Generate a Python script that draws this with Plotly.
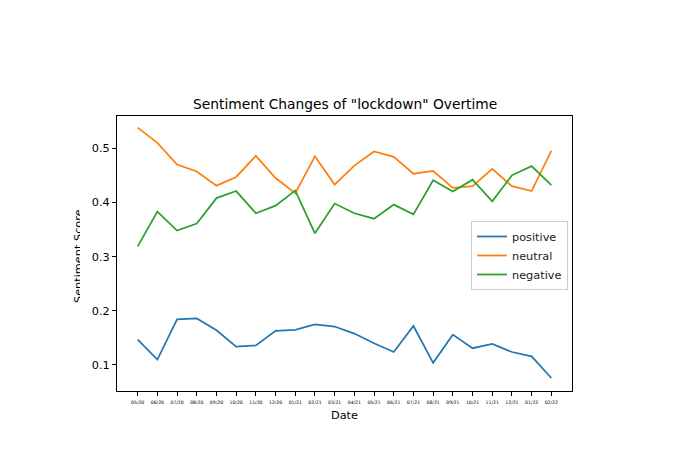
import plotly.graph_objects as go

dates = ["05/20", "06/20", "07/20", "08/20", "09/20", "10/20", "11/20", "12/20",
         "01/21", "02/21", "03/21", "04/21", "05/21", "06/21", "07/21", "08/21",
         "09/21", "10/21", "11/21", "12/21", "01/22", "02/22"]
positive = [0.147, 0.110, 0.184, 0.186, 0.164, 0.134, 0.136, 0.163, 0.165, 0.175, 0.171,
            0.158, 0.140, 0.124, 0.172, 0.104, 0.156, 0.131, 0.139, 0.124, 0.116, 0.076]
neutral = [0.538, 0.510, 0.470, 0.457, 0.431, 0.447, 0.486, 0.445, 0.417, 0.485, 0.433,
           0.468, 0.494, 0.484, 0.453, 0.458, 0.427, 0.430, 0.462, 0.430, 0.421, 0.495]
negative = [0.319, 0.383, 0.348, 0.361, 0.408, 0.421, 0.380, 0.394, 0.422, 0.343, 0.398,
            0.380, 0.370, 0.396, 0.378, 0.441, 0.420, 0.442, 0.402, 0.450, 0.467, 0.432]

series = [("positive", positive, "#1f77b4"),
          ("neutral", neutral, "#ff7f0e"),
          ("negative", negative, "#2ca02c")]

FONT = "DejaVu Sans"
OFF = 8  # page body margin
W, H = 686, 449
# plot area in page pixels
L, R, T, B = 117, 572, 116, 391
pw, ph = R - L, B - T

def px(x):
    return (x - L) / pw

def py(y):
    return (B - y) / ph

fig = go.Figure()
for name, vals, color in series:
    fig.add_trace(go.Scatter(x=dates, y=vals, mode="lines", name=name,
                             line=dict(color=color, width=1.75)))

axis_common = dict(showgrid=False, zeroline=False, showline=True, linecolor="black",
                   linewidth=1, mirror=True, ticks="outside", ticklen=4, tickwidth=1,
                   tickcolor="black")

fig.update_layout(
    width=W, height=H,
    margin=dict(l=L - OFF, r=W + OFF - R, t=T - OFF, b=H + OFF - B, pad=0),
    paper_bgcolor="white", plot_bgcolor="white",
    font=dict(family=FONT, color="black", size=11.3),
    showlegend=True,
    legend=dict(x=px(568), xanchor="right", y=py(221), yanchor="top",
                bgcolor="white", bordercolor="#cccccc", borderwidth=1,
                font=dict(family=FONT, size=11.3, color="#222222"),
                tracegroupgap=0, itemwidth=30),
    xaxis=dict(type="category", range=[-1.05, 22.05], ticklabelstandoff=2,
               tickfont=dict(family=FONT, size=4.6, color="black"), **axis_common),
    yaxis=dict(range=[0.052, 0.5595], tickvals=[0.1, 0.2, 0.3, 0.4, 0.5],
               ticktext=["0.1", "0.2", "0.3", "0.4", "0.5"],
               tickfont=dict(family=FONT, size=11.3, color="black"), **axis_common),
    annotations=[
        dict(text='Sentiment Changes of "lockdown" Overtime', xref="paper", yref="paper",
             x=0.5, y=py(104), xanchor="center", yanchor="middle", showarrow=False,
             font=dict(family=FONT, size=13.8, color="black")),
        dict(text="Date", xref="paper", yref="paper", x=0.5, y=py(415),
             xanchor="center", yanchor="middle", showarrow=False,
             font=dict(family=FONT, size=11.3, color="black")),
        dict(text="Sentiment Score", xref="paper", yref="paper", x=px(79), y=py(256),
             xanchor="center", yanchor="middle", showarrow=False, textangle=-90,
             font=dict(family=FONT, size=11.3, color="black")),
        dict(text=" ", xref="paper", yref="paper", x=px(79.5), y=py(256),
             xanchor="left", yanchor="middle", showarrow=False, width=9, height=110,
             bgcolor="white", borderpad=0, borderwidth=0,
             font=dict(family=FONT, size=11.3, color="black")),
    ],
)

fig.write_html("out.html")
